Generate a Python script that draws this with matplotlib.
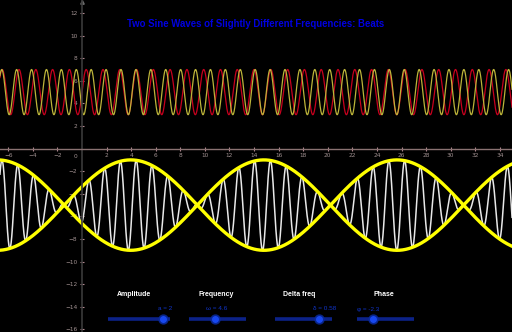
import numpy as np
import matplotlib.pyplot as plt

# slider values (GeoGebra applet)
a = 2.0        # amplitude
omega = 4.6    # frequency
delta = 0.58   # delta freq
phi = -2.3     # phase

top_offset = 5
bottom_offset = -5

slider_names = ['Amplitude', 'Frequency', 'Delta freq', 'Phase']
slider_texts = ['a = 2', 'ω = 4.6', 'δ = 0.58', 'φ = -2.3']
slider_start = [108, 189, 275, 357]
slider_end = [170, 246, 332, 414]
slider_dot = [163, 215, 319, 373]
slider_label_x = [134, 216, 299, 384]
slider_text_x = [165, 217, 325, 368]

x = np.linspace(-7, 36, 6000)
y1 = a * np.sin(omega * x)
y2 = a * np.sin((omega + delta) * x + phi)
env = 2 * a * np.cos((delta * x + phi) / 2)

fig = plt.figure(figsize=(5.12, 3.32), dpi=100, facecolor='black')
ax = fig.add_axes([0, 0, 1, 1], facecolor='black')
ax.set_xlim(-82 / 12.29, 430 / 12.29)
ax.set_ylim(-(332 - 148.6) / 11.3, 148.6 / 11.3)

# top: the two waves
ax.plot(x, y1 + top_offset, color='#c8001e', lw=0.9)
ax.plot(x, y2 + top_offset, color='#bcb43a', lw=0.9)

# bottom: sum and envelope
ax.plot(x, y1 + y2 + bottom_offset, color='#e8e8e8', lw=1.1)
ax.plot(x, env + bottom_offset, color='#ffff00', lw=2.4)
ax.plot(x, -env + bottom_offset, color='#ffff00', lw=2.4)

# axes through the origin
for s in ['top', 'right']:
    ax.spines[s].set_visible(False)
ax.spines['left'].set_position(('data', 0))
ax.spines['bottom'].set_position(('data', 0))
ax.spines['left'].set_color('#3a3a3a')
ax.spines['bottom'].set_color('#8a7272')
ax.spines['left'].set_linewidth(1.2)
ax.spines['bottom'].set_linewidth(1.0)
ax.set_xticks([t for t in range(-6, 36, 2) if t != 0])
ax.set_yticks([t for t in range(-16, 14, 2) if t != 0])
ax.tick_params(axis='both', direction='inout', length=2.5, width=0.8,
               color='#b08890', labelcolor='#a09090', labelsize=4.2, pad=2)
ax.text(-0.4, -0.45, '0', color='#a09090', fontsize=4.2, ha='right', va='top')

# arrow tip at the top of the y axis
ax.plot(0, 13.0, marker='^', ms=2.5, color='#6a6a6a')

# overlay in pixel coordinates for title and sliders
ov = fig.add_axes([0, 0, 1, 1], facecolor='none')
ov.set_xlim(0, 512)
ov.set_ylim(332, 0)
ov.axis('off')

ov.text(256, 24, 'Two Sine Waves of Slightly Different Frequencies: Beats',
        color='#0000e0', fontsize=6.9, fontweight='bold',
        family='Liberation Sans', ha='center', va='center')

for i in range(len(slider_names)):
    ov.plot([slider_start[i], slider_end[i]], [319, 319], color='#0c2288',
            lw=2.6, solid_capstyle='butt')
    ov.plot(slider_dot[i], 319, 'o', ms=6.5, color='#0a2a9a', alpha=0.8)
    ov.plot(slider_dot[i], 319, 'o', ms=4, color='#1848f0')
    ov.text(slider_label_x[i], 295, slider_names[i], color='white',
            fontsize=5, fontweight='bold', family='Liberation Sans',
            ha='center', va='center')
    ov.text(slider_text_x[i], 309, slider_texts[i], color='#1034c8',
            fontsize=4.6, family='Liberation Sans', ha='center', va='center')

fig.savefig('out.png', dpi=100, facecolor='black')
